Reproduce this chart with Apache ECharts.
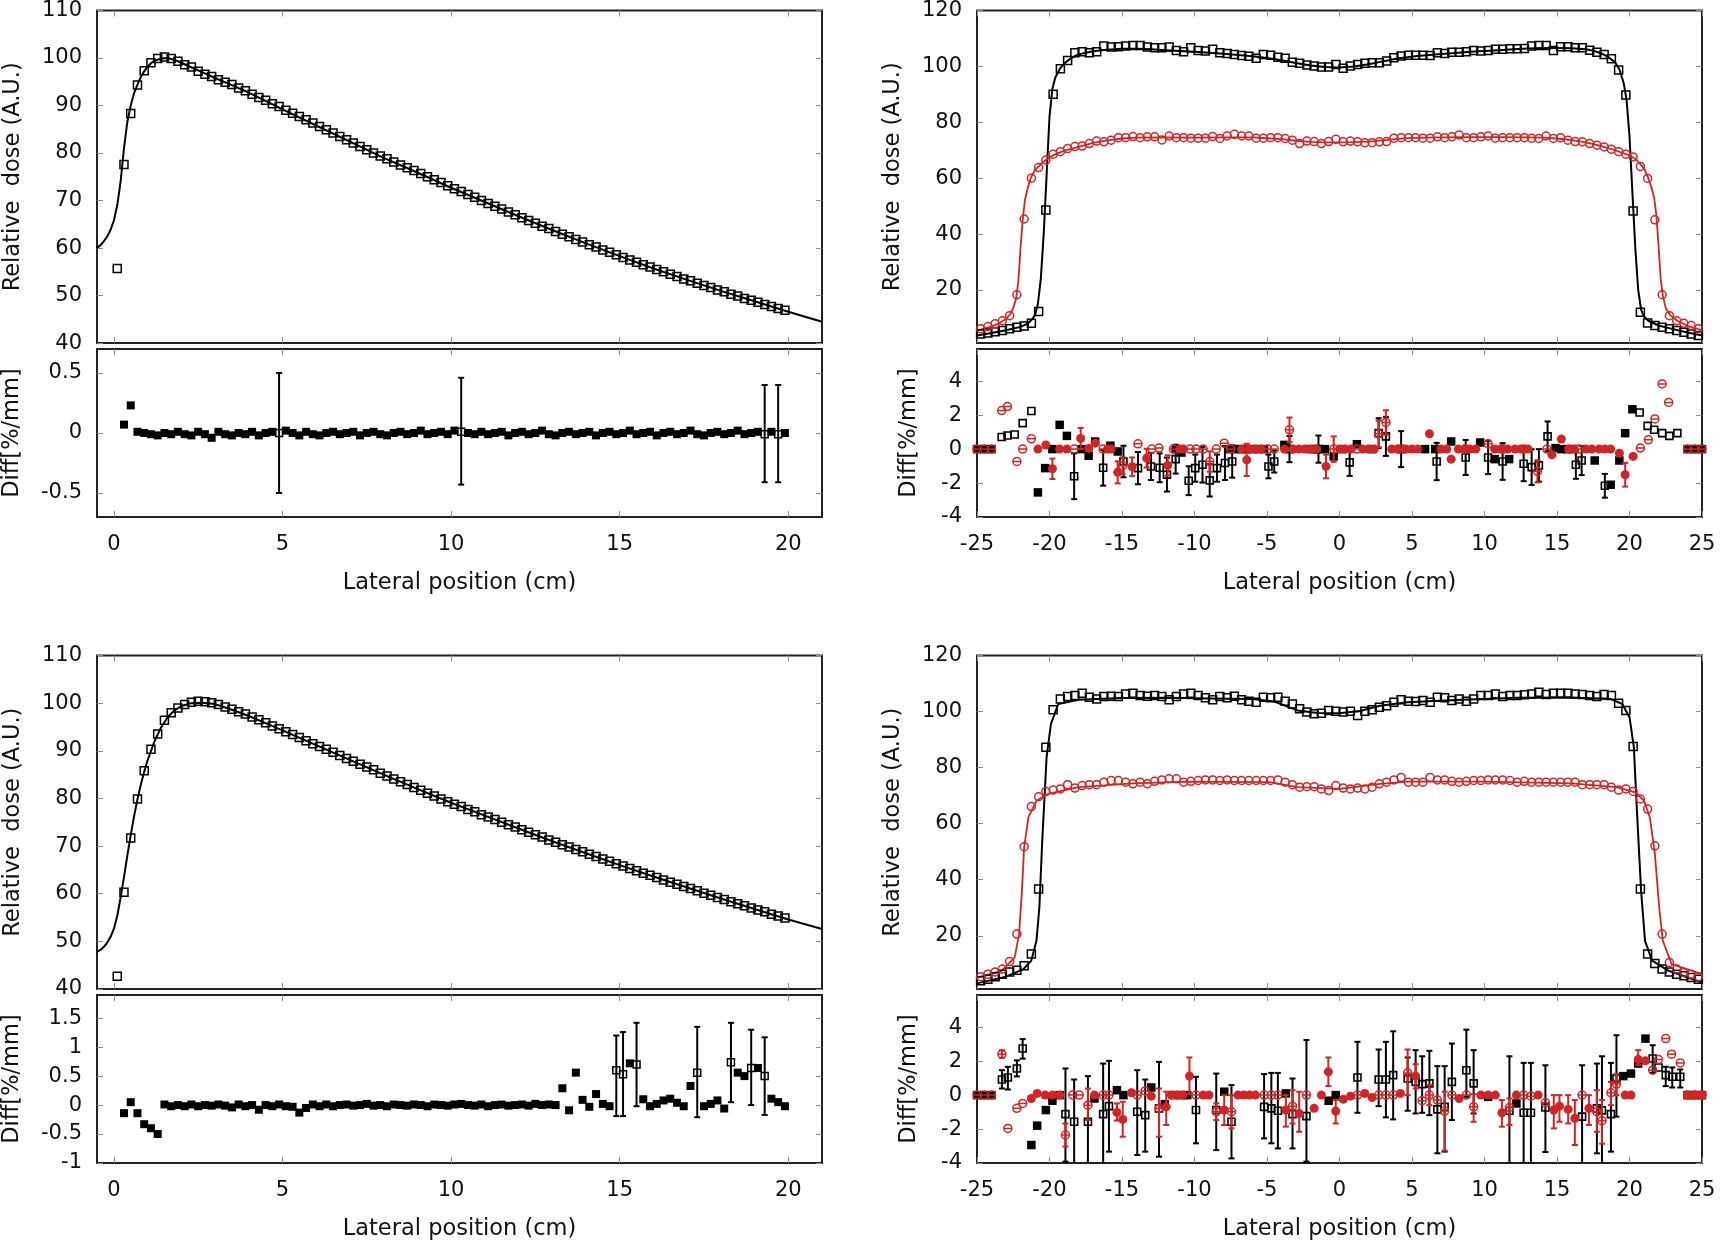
<!DOCTYPE html>
<html>
<head>
<meta charset="utf-8">
<title>Dose profiles</title>
<script src="https://cdn.jsdelivr.net/npm/echarts@6/dist/echarts.min.js"></script>
<style>
  html, body { margin: 0; padding: 0; background: #fff; }
  #chart { width: 1720px; height: 1242px; }
</style>
</head>
<body>
<div id="chart"></div>
<script>
// ---------------- data ----------------
// depth curves (left column): measured points every 0.2 cm from 0.1 cm
const depthStart = 0.1, depthStep = 0.2
// diff points every 0.2 cm from 0.3 cm
const diffStart = 0.3, diffStep = 0.2
// lateral profiles (right column): measured points every 0.5 cm from -24.75 cm
const profStart = -24.75, profStep = 0.5

const depthTicks = [0, 5, 10, 15, 20]
const lateralTicks = [-25, -20, -15, -10, -5, 0, 5, 10, 15, 20, 25]
const doseTicksDepth = [40, 50, 60, 70, 80, 90, 100, 110]
const doseTicksProfile = [20, 40, 60, 80, 100, 120]
const diffTicksA = [-0.5, 0, 0.5]
const diffTicksC = [-1, -0.5, 0, 0.5, 1, 1.5]
const diffTicksProfile = [-4, -2, 0, 2, 4]

// panel A (top left)
const measA = [55.7, 77.6, 88.3, 94.3, 97.3, 99.0, 99.9, 100.2, 99.9, 99.3,
  98.6, 98.1, 97.2, 96.6, 96.1, 95.4, 94.9, 94.4, 93.7, 93.1,
  92.4, 91.7, 91.1, 90.4, 89.8, 89.0, 88.4, 87.7, 87.0, 86.3,
  85.6, 84.9, 84.2, 83.5, 82.8, 82.1, 81.4, 80.7, 80.0, 79.4,
  78.8, 78.1, 77.5, 76.9, 76.3, 75.7, 75.0, 74.4, 73.8, 73.1,
  72.5, 71.9, 71.3, 70.7, 70.0, 69.4, 68.8, 68.2, 67.6, 67.0,
  66.4, 65.8, 65.2, 64.6, 64.1, 63.5, 62.9, 62.4, 61.8, 61.3,
  60.7, 60.2, 59.6, 59.1, 58.6, 58.0, 57.5, 57.0, 56.5, 56.0,
  55.5, 55.0, 54.5, 54.0, 53.5, 53.1, 52.6, 52.1, 51.7, 51.2,
  50.8, 50.3, 49.9, 49.4, 49.0, 48.6, 48.1, 47.7, 47.3, 46.9]
const calcA = [[-0.5, 60.0], [-0.4, 60.6], [-0.3, 61.4], [-0.2, 62.4], [-0.1, 63.8], [0.0, 65.8],
  [0.1, 69.0], [0.2, 74.0], [0.3, 81.0], [0.4, 86.6], [0.5, 90.0], [0.6, 92.6], [0.7, 94.4],
  [0.8, 96.0], [0.9, 97.2], [1.0, 98.2], [1.1, 98.9], [1.2, 99.4], [1.4, 99.9], [1.6, 100.0],
  [1.8, 99.6], [2.0, 99.0], [2.5, 97.4], [3, 95.8], [3.5, 94.3], [4, 92.7], [4.5, 91.0],
  [5, 89.2], [6, 85.8], [7, 82.4], [8, 79.0], [9, 75.9], [10, 72.7], [11, 69.7], [12, 66.7],
  [13, 63.8], [14, 61.0], [15, 58.3], [16, 55.7], [17, 53.3], [18, 51.0], [19, 48.8],
  [20, 46.6], [21, 44.5]]
const diffA = [0.07, 0.23, 0.01, 0.00, -0.01, -0.02, 0.00, -0.01, 0.01, -0.01,
  -0.02, 0.01, -0.01, -0.04, 0.01, -0.01, -0.02, 0.00, -0.01, 0.01,
  -0.02, 0.00, 0.01, null, 0.02, 0.00, -0.02, 0.01, -0.01, -0.02,
  0.00, 0.01, -0.01, 0.00, 0.01, -0.02, 0.00, 0.01, -0.01, -0.02,
  0.00, 0.01, -0.01, 0.00, 0.02, -0.01, 0.00, 0.01, -0.01, 0.02,
  null, 0.00, -0.01, 0.01, -0.01, 0.00, 0.01, -0.02, 0.00, 0.01,
  -0.01, 0.00, 0.02, -0.01, -0.02, 0.00, 0.01, -0.01, 0.00, 0.01,
  -0.02, 0.00, 0.01, -0.01, 0.00, 0.02, -0.01, 0.00, 0.01, -0.02,
  0.00, 0.01, -0.01, 0.00, 0.02, -0.01, -0.02, 0.00, 0.01, -0.01,
  0.00, 0.02, -0.01, 0.00, 0.01, null, 0.01, null, 0.00]
// [x, y, low, high]
const diffOpenA = [[4.9, 0.0, -0.5, 0.5], [10.3, 0.01, -0.43, 0.46], [19.3, -0.01, -0.41, 0.4], [19.7, -0.01, -0.41, 0.4]]

// panel C (bottom left)
const measC = [42.7, 60.3, 71.7, 79.9, 85.8, 90.3, 93.5, 96.4, 98.0, 99.0,
  99.7, 100.2, 100.4, 100.3, 100.1, 99.7, 99.2, 98.7, 98.2, 97.7,
  97.1, 96.5, 95.9, 95.2, 94.6, 94.0, 93.4, 92.8, 92.1, 91.5,
  90.9, 90.3, 89.7, 89.0, 88.4, 87.8, 87.2, 86.6, 86.0, 85.3,
  84.7, 84.1, 83.5, 82.9, 82.3, 81.7, 81.1, 80.5, 79.9, 79.3,
  78.8, 78.3, 77.7, 77.2, 76.6, 76.1, 75.6, 75.0, 74.5, 74.0,
  73.4, 72.9, 72.4, 71.9, 71.3, 70.8, 70.3, 69.8, 69.3, 68.8,
  68.3, 67.8, 67.3, 66.8, 66.3, 65.8, 65.3, 64.8, 64.3, 63.9,
  63.4, 62.9, 62.4, 62.0, 61.5, 61.1, 60.6, 60.1, 59.7, 59.2,
  58.8, 58.3, 57.9, 57.5, 57.0, 56.6, 56.2, 55.7, 55.3, 54.9]
const calcC = [[-0.5, 47.8], [-0.4, 48.2], [-0.3, 48.8], [-0.2, 49.7], [-0.1, 50.9], [0.0, 52.6],
  [0.1, 55.3], [0.2, 59.2], [0.3, 63.5], [0.4, 68.0], [0.5, 72.3], [0.6, 76.3], [0.7, 79.8],
  [0.8, 82.9], [0.9, 85.6], [1.0, 88.0], [1.2, 91.9], [1.4, 94.9], [1.6, 97.1], [1.8, 98.5],
  [2.0, 99.4], [2.3, 100.0], [2.6, 100.1], [3.0, 99.8], [3.5, 98.6], [4, 97.3], [4.5, 95.8],
  [5, 94.3], [6, 91.2], [7, 88.1], [8, 85.0], [9, 82.0], [10, 79.1], [11, 76.4], [12, 73.7],
  [13, 71.0], [14, 68.5], [15, 66.0], [16, 63.6], [17, 61.3], [18, 59.0], [19, 56.8],
  [20, 54.6], [21, 52.6]]
const diffC = [-0.14, 0.05, -0.14, -0.33, -0.40, -0.50, 0.01, -0.02, 0.00, -0.02,
  0.01, -0.02, 0.00, -0.01, 0.01, -0.01, -0.04, 0.01, -0.02, 0.00,
  -0.08, 0.00, -0.02, 0.01, -0.02, -0.03, -0.13, -0.05, 0.01, -0.02,
  0.01, -0.02, 0.00, 0.01, -0.01, 0.00, 0.02, -0.01, 0.00, -0.02,
  0.01, 0.00, -0.01, 0.01, 0.00, -0.02, 0.01, 0.00, -0.01, 0.01,
  0.02, 0.00, -0.01, 0.01, -0.02, 0.00, 0.01, -0.01, 0.00, 0.01,
  -0.01, 0.02, 0.00, 0.01, 0.00, 0.29, -0.09, 0.56, 0.09, -0.03,
  0.19, 0.02, -0.02, null, null, 0.72, null, 0.10, -0.02, 0.02,
  0.08, 0.11, 0.04, -0.02, 0.33, null, -0.02, 0.02, 0.08, -0.06,
  null, 0.56, 0.50, null, 0.64, null, 0.11, 0.05, -0.02]
const diffOpenC = [[14.9, 0.6, -0.19, 1.2], [15.1, 0.53, -0.19, 1.26], [15.5, 0.70, -0.02, 1.42],
  [17.3, 0.56, -0.21, 1.35], [18.3, 0.74, 0.05, 1.42], [18.9, 0.64, 0.0, 1.3], [19.3, 0.5, -0.17, 1.17]]

// panel B (top right)
const measBlackB = [4.3, 4.6, 5.1, 5.5, 6.1, 6.7, 7.1, 8.1, 12.3, 48.6,
  90.0, 99.2, 102.1, 104.9, 105.2, 104.9, 105.2, 107.3, 106.9, 107.0,
  107.3, 107.5, 107.5, 106.9, 106.7, 106.7, 106.9, 105.7, 105.2, 106.7,
  105.7, 105.5, 106.1, 104.9, 104.6, 104.3, 103.9, 103.6, 102.9, 104.3,
  104.0, 103.3, 102.9, 101.5, 101.1, 100.5, 100.1, 99.8, 99.8, 100.7,
  99.3, 100.1, 100.7, 101.1, 101.3, 101.3, 101.9, 103.1, 103.7, 104.0,
  104.0, 104.0, 103.9, 104.9, 104.6, 105.1, 105.1, 105.2, 105.7, 105.5,
  105.7, 106.1, 106.1, 106.3, 106.3, 106.4, 107.3, 107.5, 107.5, 105.7,
  107.0, 107.0, 106.7, 106.7, 105.8, 105.1, 104.3, 102.7, 98.7, 89.8,
  48.3, 12.0, 8.2, 7.3, 6.7, 6.1, 5.5, 4.9, 4.3, 3.7]
const measRedB = [6.1, 6.9, 7.9, 9.0, 10.8, 18.3, 45.4, 60.0, 63.8, 66.5,
  68.6, 69.5, 70.6, 71.3, 71.5, 72.4, 73.3, 73.0, 73.6, 74.5,
  74.5, 74.9, 74.5, 74.8, 74.8, 73.7, 75.1, 74.5, 74.5, 74.3,
  74.3, 74.3, 74.9, 74.2, 75.1, 75.7, 75.1, 75.1, 74.3, 74.3,
  74.5, 74.5, 74.2, 73.6, 72.4, 73.3, 73.1, 72.4, 73.1, 73.9,
  73.0, 73.3, 73.0, 72.7, 72.7, 73.0, 73.1, 74.3, 74.5, 74.5,
  74.5, 74.3, 74.3, 74.8, 74.5, 74.8, 75.5, 74.5, 74.5, 74.8,
  75.1, 74.3, 74.5, 74.5, 74.5, 74.5, 74.3, 74.2, 75.1, 74.2,
  74.5, 73.6, 73.1, 73.0, 72.4, 71.8, 71.2, 70.4, 69.5, 68.6,
  67.6, 64.2, 59.9, 45.1, 18.3, 10.8, 9.0, 8.1, 7.3, 6.1]
const calcBlackB = [[-25, 3.7], [-24, 4.6], [-23, 5.6], [-22, 6.8], [-21.5, 8.0], [-21.2, 9.5],
  [-21.0, 11], [-20.8, 15], [-20.6, 24], [-20.4, 40], [-20.2, 61], [-20.0, 82], [-19.8, 92],
  [-19.6, 96], [-19.3, 99], [-19.0, 101], [-18.5, 103], [-18, 104.3], [-17, 105.4], [-16, 106],
  [-15, 106.3], [-14, 106.3], [-13, 106.1], [-12, 105.8], [-11, 105.5], [-10, 105.2],
  [-9, 104.9], [-8, 104.5], [-7, 104.1], [-6, 103.6], [-5, 103.0], [-4, 102.2], [-3, 101.2],
  [-2, 100.3], [-1, 99.8], [0, 99.6], [1, 100.0], [2, 100.8], [3, 101.8], [4, 102.8],
  [5, 103.5], [6, 104], [7, 104.4], [8, 104.8], [9, 105.2], [10, 105.5], [11, 105.8],
  [12, 106.1], [13, 106.4], [14, 106.6], [15, 106.6], [16, 106.5], [17, 106.1], [17.5, 105.6],
  [18, 104.8], [18.5, 103.5], [19, 101.5], [19.3, 99], [19.6, 94], [19.8, 88], [20.0, 75],
  [20.2, 55], [20.4, 35], [20.6, 20], [20.8, 13], [21.0, 10.5], [21.3, 9.0], [22, 7.3],
  [23, 6.0], [24, 4.8], [25, 3.7]]
const calcRedB = [[-25, 5.5], [-24, 7.0], [-23.5, 8.0], [-23, 9.6], [-22.7, 11.5], [-22.5, 13.5],
  [-22.3, 17], [-22.15, 23], [-22.0, 35], [-21.85, 45], [-21.7, 52], [-21.5, 56.5], [-21.3, 60],
  [-21, 63], [-20.5, 65.5], [-20, 67.5], [-19.5, 68.8], [-19, 69.8], [-18, 71.2], [-17, 72.6],
  [-16, 73.5], [-15, 74.2], [-14, 74.5], [-12, 74.6], [-10, 74.5], [-8, 74.6], [-6, 74.6],
  [-5, 74.3], [-4, 74.0], [-3, 73.4], [-2, 73.0], [-1, 72.8], [0, 72.8], [1, 72.9], [2, 73.1],
  [3, 73.5], [4, 74.1], [5, 74.4], [7, 74.6], [9, 74.7], [11, 74.7], [13, 74.6], [14, 74.5],
  [15, 74.2], [16, 73.6], [17, 72.8], [18, 71.6], [19, 70.0], [20, 68.2], [20.5, 66.5],
  [21, 63.5], [21.3, 60], [21.5, 57], [21.7, 53], [21.85, 47], [22.0, 36], [22.15, 24],
  [22.3, 18], [22.5, 13.5], [22.8, 11], [23.3, 9.0], [24, 7.2], [25, 5.6]]
// diff points: [x, y] or [x, y, err] or [x, y, low, high]
const diffBlackFillB = [[-25, 0], [-24.5, 0], [-24, 0], [-20.8, -2.55], [-20.3, -1.12], [-19.8, 0],
  [-19.3, 1.43], [-18.8, 0.78], [-17.8, 0], [-17.3, -0.39], [-16.85, 0.45], [-15.8, 0.2],
  [-15.3, -0.14], [-11.3, 0], [-10.9, -0.2], [-7.6, 0], [-7.2, 0], [-6.8, 0], [-6.4, 0],
  [-6.0, 0], [-5.6, 0], [-5.2, 0], [-3.8, 0.25], [-2.0, 0], [-1.6, 0], [-1.0, 0], [-0.4, -0.43],
  [0.2, 0], [1.2, 0.29], [2.2, 0], [5.9, 0], [6.6, 0], [7.7, 0.45], [9.7, 0.39], [10.7, -0.59],
  [11.7, -0.59], [14.9, 0.06], [15.3, 0], [15.7, 0], [16.1, 0], [17.6, -0.67], [18.7, -2.1],
  [19.3, -0.67], [19.7, 0.94], [20.2, 2.35], [24, 0], [24.5, 0], [25, 0]]
const diffBlackOpenB = [[-23.3, 0.71], [-22.9, 0.8], [-22.4, 0.86], [-21.85, 1.53], [-21.25, 2.25],
  [-18.3, -1.6, 1.35], [-16.3, -1.1, 1.05], [-14.9, -0.73, 0.93], [-13.9, -1.12, 0.95],
  [-13.0, -1.02, 0.8], [-12.4, -1.1, 0.85], [-11.9, -1.5, 1.0], [-11.3, -0.59, 0.85],
  [-10.4, -1.86, 0.85], [-9.95, -1.12, 0.8], [-9.45, -0.92, 1.05], [-8.95, -1.84, 0.95],
  [-8.45, -1.12, 0.8], [-7.9, -0.82, 1.0], [-7.4, -0.73, 0.95], [-4.9, -1.02, 0.7],
  [-4.5, -0.73, 0.65], [-3.45, 0, 0.77], [-1.45, 0, 0.8], [0.7, -0.78, 0.8], [2.7, 0.94, 0.88],
  [3.2, 0.75, 1.15], [4.25, 0, 1.06], [6.7, -0.73, 1.1], [8.7, -0.49, 1.03], [10.25, -0.49, 0.98],
  [11.25, -0.73, 1.08], [12.7, -0.86, 1.03], [13.25, -1.06, 1.05], [13.75, -0.96, 0.96],
  [14.35, 0.75, 0.88], [16.3, -0.92, 0.83], [16.7, -0.67, 0.86], [18.3, -2.16, 0.7],
  [20.7, 2.16], [21.25, 1.37], [21.7, 1.14], [22.25, 0.94], [22.75, 0.78], [23.3, 0.94]]
const diffRedFillB = [[-20.8, 0], [-20.25, 0.24], [-19.8, -1.16, 0.6], [-19.3, 0], [-18.8, 0],
  [-17.85, 0.63, 0.62], [-17.3, 0.04], [-16.85, 0.35], [-16.0, 0], [-15.75, 0],
  [-15.3, -1.37, 0.65], [-14.3, -1.04, 0.55], [-13.3, -0.53, 0.55], [-11.85, -0.96, 0.6],
  [-11.0, 0], [-10.75, 0], [-6.75, 0], [-6.4, -0.63, 0.95], [-6.2, 0], [-5.8, 0], [-5.4, 0],
  [-3.8, 0], [-3.2, 0], [-2.8, 0], [-2.4, 0], [-2.0, 0], [-1.6, 0], [-0.93, -1.02, 0.7],
  [0.0, 0], [0.4, 0], [0.8, 0], [1.6, 0], [2.0, 0], [2.4, 0], [3.6, 0], [4.0, 0], [4.6, 0],
  [5.0, 0], [5.4, 0], [6.2, 0.9], [7.0, 0], [7.4, 0], [7.7, -0.59], [8.2, 0], [8.6, 0], [9.0, 0],
  [9.4, 0], [10.7, 0], [11.1, 0], [11.6, 0], [12.1, 0], [12.5, 0], [13.0, 0], [14.65, -0.33],
  [15.3, 0.59], [15.8, 0], [16.2, 0], [17.0, 0], [17.4, 0], [17.9, 0], [18.3, 0], [18.7, 0],
  [19.3, -0.24], [19.7, -1.51, 0.7], [20.25, -0.43]]
const diffRedOpenB = [[-25, 0], [-24.5, 0], [-24, 0], [-23.3, 2.27], [-22.9, 2.51], [-22.25, -0.73],
  [-21.85, 0], [-21.25, 0.61], [-18.3, 0], [-16.3, 0], [-14.95, -0.98, 0.5], [-13.9, 0.31],
  [-12.95, 0], [-12.45, 0.06], [-11.45, 0], [-10.3, 0], [-9.9, 0], [-9.4, 0], [-8.95, -0.73, 0.6],
  [-8.5, 0], [-7.95, 0.35], [-7.5, 0], [-4.95, 0], [-4.5, 0], [-3.45, 1.14, 0.72], [-0.4, 0, 0.75],
  [1.2, 0], [2.7, 0.9, 0.78], [3.2, 1.57, 0.72], [4.3, 0], [8.7, 0], [10.25, 0.31], [11.3, 0],
  [12.7, 0], [13.65, -1.31, 0.65], [14.3, 0], [16.5, 0], [20.75, 0.06], [21.3, 0.55],
  [21.75, 1.78], [22.25, 3.84], [22.7, 2.75], [24, 0], [24.5, 0], [25, 0]]

// panel D (bottom right)
const measBlackD = [3.9, 4.5, 5.4, 6.3, 7.1, 7.7, 9.3, 13.5, 36.7, 87.3,
  100.6, 104.5, 105.4, 105.7, 106.5, 105.1, 104.5, 105.4, 105.5, 105.4,
  106.3, 106.5, 105.7, 105.5, 105.7, 105.4, 104.2, 105.4, 106.3, 106.5,
  105.7, 104.9, 104.2, 105.4, 104.9, 105.5, 104.2, 103.7, 103.3, 105.1,
  104.9, 105.1, 103.7, 102.7, 101.0, 99.8, 99.2, 99.4, 100.4, 100.1,
  99.8, 100.1, 98.6, 100.1, 100.6, 101.5, 102.1, 103.3, 104.2, 103.7,
  103.6, 103.9, 103.3, 105.1, 104.9, 103.9, 104.5, 103.7, 104.5, 105.7,
  105.7, 106.3, 105.4, 105.7, 105.7, 106.0, 106.3, 106.9, 106.1, 106.5,
  106.5, 106.5, 106.3, 106.1, 105.7, 105.4, 106.1, 105.7, 103.0, 100.4,
  87.5, 36.7, 13.5, 10.1, 8.1, 7.1, 6.3, 5.7, 5.1, 4.5]
const measRedD = [5.4, 6.3, 7.1, 8.1, 10.8, 20.6, 51.8, 66.1, 69.6, 71.5,
  72.0, 72.4, 73.9, 72.7, 73.6, 73.9, 73.9, 74.8, 75.4, 75.4,
  74.8, 74.2, 74.8, 74.2, 75.1, 75.6, 76.0, 76.0, 74.8, 75.1,
  75.4, 75.6, 75.6, 75.4, 75.6, 75.4, 75.4, 75.4, 75.4, 75.4,
  75.4, 75.6, 74.8, 73.9, 73.0, 73.2, 73.2, 72.4, 71.8, 73.6,
  72.7, 72.4, 72.7, 72.4, 73.0, 74.2, 74.8, 75.6, 76.5, 74.8,
  74.8, 74.8, 76.5, 75.6, 75.6, 75.1, 74.8, 75.1, 75.4, 75.4,
  75.6, 75.6, 75.6, 75.4, 74.8, 75.1, 74.8, 74.8, 74.8, 74.8,
  74.8, 74.8, 74.8, 73.9, 73.9, 73.9, 73.9, 73.0, 72.0, 72.4,
  71.5, 68.8, 65.2, 52.1, 20.6, 10.5, 8.1, 6.9, 6.3, 5.4]
const calcBlackD = [[-25, 3.0], [-23, 5.4], [-21.8, 8.1], [-21.26, 11.1], [-20.9, 18.2],
  [-20.7, 30], [-20.5, 54], [-20.2, 83.7], [-19.9, 95.6], [-19.4, 102.7], [-18, 104.2],
  [-15, 104.8], [-12, 104.9], [-9, 104.7], [-6, 104.5], [-4.5, 103.6], [-2.9, 100.4],
  [-1.5, 99.5], [0, 99.4], [1.4, 100.2], [2.8, 102.1], [4.7, 103.3], [6.5, 103.8],
  [8.5, 104.2], [12.3, 104.9], [16, 105.0], [18.7, 104.5], [19.5, 102.7], [20.0, 98],
  [20.3, 87.3], [20.5, 65.8], [20.8, 36], [21.07, 18.2], [21.56, 11.1], [22.7, 7.5], [25, 3.3]]
const calcRedD = [[-25, 5.1], [-23.3, 7.5], [-22.4, 12.3], [-22.1, 20.6], [-21.9, 36],
  [-21.75, 51.5], [-21.45, 62.3], [-20.9, 68.2], [-20.1, 70.6], [-18, 73], [-14.2, 74.4],
  [-10.5, 75], [-4.8, 74.8], [-2.9, 73], [0, 72.4], [2.8, 74.2], [4.7, 75], [10, 75.0],
  [16, 74.4], [19.1, 73], [20.4, 71.2], [21.0, 68.2], [21.4, 62.3], [21.75, 49.2],
  [22.05, 30], [22.3, 18.2], [22.9, 9.9], [25, 6.3]]
const diffBlackFillD = [[-25, 0], [-24.5, 0], [-24, 0], [-21.25, -2.94], [-20.85, -1.8],
  [-20.25, -0.88], [-19.8, -0.33], [-19.3, 0], [-16.9, -0.2], [-15.35, 0.29], [-14.9, 0],
  [-12.98, 0.45], [-12.05, -0.53], [-11.4, 0], [-10.9, 0], [-10.5, 0], [-7.95, 0.2], [-3.7, 0.1],
  [-0.75, -0.33], [-0.26, 0], [10.25, -0.1], [12.2, -0.49], [19.57, 1.12], [20.1, 1.27],
  [20.6, 1.86], [21.1, 3.33], [24, 0], [24.5, 0], [25, 0]]
const diffBlackOpenD = [[-23.28, 0.92, 0.39, 1.47], [-22.87, 1.04, 0.33, 1.67], [-22.25, 1.57, 1.1, 2.05],
  [-21.85, 2.75, 2.15, 3.3], [-18.9, -1.12, -3.92, 1.57], [-18.3, -1.57, -4.04, 0.92],
  [-17.35, -1.57, -4.04, 1.12], [-16.3, -1.12, -4.04, 1.86], [-15.9, -0.65, -3.33, 2.02],
  [-13.95, -0.98, -3.53, 1.47], [-13.4, -1.18, -3.33, 0.92], [-12.45, -0.78, -3.63, 1.96],
  [-9.9, -0.88, -2.84, 1.08], [-8.5, -0.88, -3.24, 1.27], [-7.45, -1.57, -3.73, 0.59],
  [-5.2, -0.69, -2.55, 1.24], [-4.7, -0.78, -2.84, 1.31], [-4.25, -0.92, -3.14, 1.31],
  [-3.24, -1.12, -3.14, 0.98], [-2.28, -1.24, -3.92, 3.25], [1.24, 1.04, -1.04, 3.14],
  [2.7, 0.92, -0.65, 2.69], [3.2, 0.92, -1.31, 3.14], [3.7, 1.18, -1.43, 3.76],
  [4.7, 0.98, -0.92, 2.22], [5.25, 0.78, -1.08, 2.65], [5.7, 0.65, -1.04, 2.29],
  [6.2, 0.69, -1.18, 2.61], [6.75, -0.84, -3.43, 1.71], [7.25, -0.69, -3.33, 1.71],
  [7.75, 0.78, -1.47, 3.04], [8.75, 1.47, -0.1, 3.86], [9.25, 0.69, -1.08, 2.65],
  [11.72, -0.92, -4.0, 2.29], [12.7, -1.04, -4.0, 1.9], [13.2, -1.04, -4.0, 1.9],
  [14.2, -0.73, -3.35, 1.76], [16.73, -1.27, -4.0, 1.76], [17.75, -0.78, -3.43, 1.86],
  [18.1, -0.9, -4.0, 2.29], [18.72, -1.12, -3.33, 1.9], [19.1, 0.98, -1.27, 3.53],
  [21.6, 2.16, 1.31, 2.94], [22.0, 1.63], [22.5, 1.18, 0.53, 1.67], [22.95, 1.08, 0.45, 1.63],
  [23.5, 1.08, 0.45, 1.51]]
const diffRedFillD = [[-21.25, -0.2], [-20.85, 0.1], [-20.3, 0], [-19.8, 0], [-19.3, 0], [-16.9, 0],
  [-15.35, -1.02, -1.5, -0.49], [-14.95, -1.43, -2.45, -0.39], [-14.35, 0.14], [-12.98, -0.06],
  [-11.95, -0.69, -1.76, 0.2], [-11.6, 0], [-11.2, 0], [-10.8, 0], [-10.35, 1.12, 0.06, 2.22],
  [-9.4, 0], [-9.0, 0], [-7.95, -0.88, -1.76, 0], [-7.0, 0], [-6.6, 0], [-6.2, 0], [-5.8, 0],
  [-3.7, -0.88, -1.86, 0], [-2.78, -1.08, -2.16, 0.2], [-1.75, -0.78], [-1.25, 0],
  [-0.77, 1.37, 0.53, 2.22], [-0.26, -0.94, -1.67, -0.29], [0.26, -0.25], [0.76, -0.06],
  [1.74, 0.1], [2.25, -0.14], [4.2, 0.1], [5.25, 1.12, 0.39, 1.82], [8.25, -0.2], [9.75, 0],
  [10.25, 0], [10.75, 0], [11.2, -1.04, -1.86, -0.29], [12.2, 0], [13.7, 0],
  [14.78, -0.88, -1.96, 0], [15.17, -0.65, -1.57, 0], [15.77, -0.84, -1.67, 0],
  [16.23, -1.37, -2.94, -0.29], [17.2, -0.78, -1.76, 0], [19.7, 0], [20.1, 0],
  [20.6, 2.1, 1.76, 2.65], [21.1, 2.02], [24.0, 0], [24.5, 0], [25, 0]]
const diffRedOpenD = [[-25, 0], [-24.5, 0], [-24, 0], [-23.28, 2.41, 2.2, 2.65], [-22.87, -1.96],
  [-22.25, -0.78], [-21.85, -0.49], [-18.9, -2.35, -3.03, -1.67], [-18.4, 0], [-17.95, 0],
  [-17.35, -0.59, -1.47, 0.39], [-16.3, 0], [-15.9, 0], [-13.95, 0], [-13.4, 0.25],
  [-12.45, -0.78, -2.45, 0.39], [-9.9, 0], [-8.5, -0.98, -1.47, -0.49], [-7.45, -0.98, -1.96, 0],
  [-5.2, 0], [-4.7, 0], [-4.25, 0], [-3.24, -0.65, -1.67, 0.29], [-2.28, 0], [1.24, 0], [2.7, 0],
  [3.2, 0], [3.7, 0], [4.7, 1.31, 0, 2.69], [5.7, -0.33], [6.2, 0, -0.59, 0.59], [6.75, -0.29],
  [7.25, -0.94, -3.27, 0.2], [7.75, 0], [8.75, 0], [9.25, -0.69, -1.57, 0.06],
  [11.72, -0.73, -1.76, -0.2], [12.7, 0], [13.2, -0.06], [14.2, -0.45], [16.73, 0],
  [17.75, -0.98, -2.16, 0.29], [18.1, -1.51, -2.86, -0.29], [18.72, 0.14, -0.59, 0.78],
  [19.1, 0.65, 0, 1.24], [21.6, 1.47], [22.0, 2.1], [22.5, 3.33], [22.9, 2.41], [23.5, 1.9],
  [24.0, 0], [24.5, 0], [25, 0]]

// ---------------- layout / style ----------------
const FONT = "'DejaVu Sans', 'Liberation Sans', Arial, sans-serif"
const INK = '#111'
const RED = '#d22424'
const CLEAR = 'rgba(0,0,0,0)'
const OMINUS = 'path://M0,6A6,6,0,1,1,12,6A6,6,0,1,1,0,6ZM0,6L12,6' // open circle with bar

const boxes = [
  { left: 97, top: 9.6, width: 725, height: 333.5 },
  { left: 97, top: 349, width: 725, height: 168 },
  { left: 977, top: 9.6, width: 725, height: 333.5 },
  { left: 977, top: 349, width: 725, height: 168 },
  { left: 97, top: 655.5, width: 725, height: 333.5 },
  { left: 97, top: 995, width: 725, height: 168 },
  { left: 977, top: 655.5, width: 725, height: 333.5 },
  { left: 977, top: 995, width: 725, height: 168 }
]
const panels = [
  { x: [-0.5, 21], xt: depthTicks, y: [40, 110], yt: doseTicksDepth, name: 'Relative  dose (A.U.)', gap: 72 },
  { x: [-0.5, 21], xt: depthTicks, y: [-0.7, 0.7], yt: diffTicksA, name: 'Diff[%/mm]', gap: 73, lab: true },
  { x: [-25, 25], xt: lateralTicks, y: [1, 120], yt: doseTicksProfile, name: 'Relative  dose (A.U.)', gap: 72 },
  { x: [-25, 25], xt: lateralTicks, y: [-4, 5.9], yt: diffTicksProfile, name: 'Diff[%/mm]', gap: 56, lab: true },
  { x: [-0.5, 21], xt: depthTicks, y: [40, 110], yt: doseTicksDepth, name: 'Relative  dose (A.U.)', gap: 72 },
  { x: [-0.5, 21], xt: depthTicks, y: [-1, 1.9], yt: diffTicksC, name: 'Diff[%/mm]', gap: 73, lab: true },
  { x: [-25, 25], xt: lateralTicks, y: [1, 120], yt: doseTicksProfile, name: 'Relative  dose (A.U.)', gap: 72 },
  { x: [-25, 25], xt: lateralTicks, y: [-4, 5.9], yt: diffTicksProfile, name: 'Diff[%/mm]', gap: 56, lab: true }
]

const tick = (vals) => ({ show: true, inside: true, length: 6, customValues: vals, lineStyle: { color: '#8c8c8c', width: 1 } })
const noLine = { show: false, onZero: false }
const labelStyle = { fontSize: 21, color: INK, fontFamily: FONT }
const nameStyle = { fontSize: 22.5, color: INK, fontFamily: FONT }

const xAxis = [], yAxis = []
panels.forEach((p, g) => {
  xAxis.push({
    type: 'value', gridIndex: g, position: 'bottom', min: p.x[0], max: p.x[1],
    axisLine: noLine, splitLine: { show: false }, axisTick: tick(p.xt),
    axisLabel: { show: !!p.lab, customValues: p.xt, margin: 17, ...labelStyle },
    name: p.lab ? 'Lateral position (cm)' : '', nameLocation: 'middle', nameGap: 55,
    nameTextStyle: nameStyle
  })
  xAxis.push({
    type: 'value', gridIndex: g, position: 'top', min: p.x[0], max: p.x[1],
    axisLine: noLine, splitLine: { show: false }, axisTick: tick(p.xt), axisLabel: { show: false }
  })
  yAxis.push({
    type: 'value', gridIndex: g, position: 'left', min: p.y[0], max: p.y[1],
    axisLine: noLine, splitLine: { show: false }, axisTick: tick(p.yt),
    axisLabel: { customValues: p.yt, margin: 15, ...labelStyle },
    name: p.name, nameLocation: 'middle', nameGap: p.gap, nameTextStyle: nameStyle
  })
  yAxis.push({
    type: 'value', gridIndex: g, position: 'right', min: p.y[0], max: p.y[1],
    axisLine: noLine, splitLine: { show: false }, axisTick: tick(p.yt), axisLabel: { show: false }
  })
})

// helpers
const along = (start, step, ys) => ys.map((v, i) => [+(start + step * i).toFixed(3), v]).filter(p => p[1] != null)
const xy = list => list.map(e => [e[0], e[1]])
function barData(list) {
  return list.filter(e => e.length > 2)
    .map(e => e.length === 4 ? [e[0], e[2], e[3]] : [e[0], e[1] - e[2], e[1] + e[2]])
    .filter(b => b[2] > b[1])
}

function curve(g, data, color, width) {
  return { type: 'line', xAxisIndex: 2 * g, yAxisIndex: 2 * g, data, showSymbol: false, symbol: 'none',
    silent: true, z: 2, lineStyle: { color, width } }
}
function points(g, data, symbol, size, fill, stroke, bw, z) {
  return { type: 'scatter', xAxisIndex: 2 * g, yAxisIndex: 2 * g, data, symbol, symbolSize: size,
    silent: true, z, itemStyle: { color: fill, borderColor: stroke, borderWidth: bw, opacity: 1 } }
}
function errorBars(g, data, color, z) {
  return {
    type: 'custom', xAxisIndex: 2 * g, yAxisIndex: 2 * g, data, clip: true, silent: true, z,
    encode: { x: 0, y: [1, 2] },
    renderItem(params, api) {
      const a = api.coord([api.value(0), api.value(1)])
      const b = api.coord([api.value(0), api.value(2)])
      const w = 3
      const st = { stroke: color, lineWidth: 2 }
      return { type: 'group', children: [
        { type: 'line', shape: { x1: a[0], y1: a[1], x2: b[0], y2: b[1] }, style: st },
        { type: 'line', shape: { x1: a[0] - w, y1: a[1], x2: a[0] + w, y2: a[1] }, style: st },
        { type: 'line', shape: { x1: b[0] - w, y1: b[1], x2: b[0] + w, y2: b[1] }, style: st }
      ] }
    }
  }
}

// one diff panel with its four kinds of marks
function diffPanel(g, bFill, bOpen, rFill, rOpen) {
  return [
    errorBars(g, barData(bOpen), '#000', 3),
    points(g, xy(bFill), 'rect', 8.5, '#000', '#000', 0, 4),
    points(g, xy(bOpen), 'rect', 7, CLEAR, '#000', 1.6, 5),
    errorBars(g, barData(rFill).concat(barData(rOpen)), RED, 6),
    points(g, xy(rFill), 'circle', 9, RED, RED, 0, 7),
    points(g, xy(rOpen), OMINUS, 8, CLEAR, RED, 1.5, 8)
  ]
}

const series = [
  // A
  curve(0, calcA, '#000', 2),
  points(0, along(depthStart, depthStep, measA), 'rect', 8, CLEAR, '#000', 1.5, 4),
  errorBars(1, diffOpenA.map(e => [e[0], e[2], e[3]]), '#000', 3),
  points(1, along(diffStart, diffStep, diffA), 'rect', 8, '#000', '#000', 0, 4),
  points(1, xy(diffOpenA), 'rect', 7, CLEAR, '#000', 1.5, 5),
  // B
  curve(2, calcBlackB, '#000', 2),
  curve(2, calcRedB, RED, 1.8),
  points(2, along(profStart, profStep, measBlackB), 'rect', 8, CLEAR, '#000', 1.5, 4),
  points(2, along(profStart, profStep, measRedB), 'circle', 8, CLEAR, RED, 1.5, 5),
  ...diffPanel(3, diffBlackFillB, diffBlackOpenB, diffRedFillB, diffRedOpenB),
  // C
  curve(4, calcC, '#000', 2),
  points(4, along(depthStart, depthStep, measC), 'rect', 8, CLEAR, '#000', 1.5, 4),
  errorBars(5, diffOpenC.map(e => [e[0], e[2], e[3]]), '#000', 3),
  points(5, along(diffStart, diffStep, diffC), 'rect', 8, '#000', '#000', 0, 4),
  points(5, xy(diffOpenC), 'rect', 7, CLEAR, '#000', 1.5, 5),
  // D
  curve(6, calcBlackD, '#000', 2),
  curve(6, calcRedD, RED, 1.8),
  points(6, along(profStart, profStep, measBlackD), 'rect', 8, CLEAR, '#000', 1.5, 4),
  points(6, along(profStart, profStep, measRedD), 'circle', 8, CLEAR, RED, 1.5, 5),
  ...diffPanel(7, diffBlackFillD, diffBlackOpenD, diffRedFillD, diffRedOpenD)
]

const chart = echarts.init(document.getElementById('chart'), null, { renderer: 'canvas' })
chart.setOption({
  animation: false,
  backgroundColor: '#fff',
  textStyle: { fontFamily: FONT },
  grid: boxes.map(b => ({ ...b, show: true, borderColor: '#222', borderWidth: 2, backgroundColor: CLEAR, containLabel: false })),
  xAxis,
  yAxis,
  series
})
</script>
</body>
</html>
